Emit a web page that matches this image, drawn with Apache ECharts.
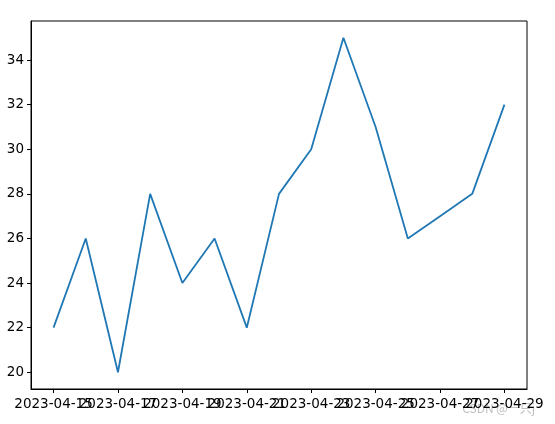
<!DOCTYPE html>
<html>
<head>
<meta charset="utf-8">
<script src="https://cdn.jsdelivr.net/npm/echarts@6/dist/echarts.min.js"></script>
<style>
  html, body { margin: 0; padding: 0; background: #fff; }
  #chart { width: 555px; height: 424px; }
</style>
</head>
<body>
<div id="chart"></div>
<script>
// 日期和数值
var dates = ['2023-04-15', '2023-04-16', '2023-04-17', '2023-04-18', '2023-04-19',
  '2023-04-20', '2023-04-21', '2023-04-22', '2023-04-23', '2023-04-24',
  '2023-04-25', '2023-04-26', '2023-04-27', '2023-04-28', '2023-04-29']
var values = [22, 26, 20, 28, 24, 26, 22, 28, 30, 35, 31, 26, 27, 28, 32]
var xTickDates = ['2023-04-15', '2023-04-17', '2023-04-19', '2023-04-21', '2023-04-23',
  '2023-04-25', '2023-04-27', '2023-04-29']
var yTicks = [20, 22, 24, 26, 28, 30, 32, 34]

var chart = echarts.init(document.getElementById('chart'))

var xTicks = xTickDates.map(function (d) { return dates.indexOf(d) })
// 标签互相重叠，分两条轴画，免得被自动隐藏
var xTicksA = xTicks.filter(function (v, i) { return i % 2 === 0 })
var xTicksB = xTicks.filter(function (v, i) { return i % 2 === 1 })
var seriesData = values.map(function (v, i) { return [i, v] })

var font = 'DejaVu Sans'

function xAxisOf (labels, withTicks) {
  return {
    type: 'value',
    position: 'bottom',
    min: -0.7,
    max: 14.7,
    splitLine: { show: false },
    axisLine: { show: withTicks, onZero: false, lineStyle: { color: '#000', width: 1 } },
    axisTick: {
      show: withTicks, length: 4, inside: false,
      lineStyle: { color: '#000', width: 1 },
      customValues: xTicks
    },
    axisLabel: {
      customValues: labels,
      color: '#000', fontFamily: font, fontSize: 13.5, margin: 8,
      hideOverlap: false, showMinLabel: true, showMaxLabel: true,
      formatter: function (v) { return dates[Math.round(v)] }
    }
  }
}

var option = {
  animation: false,
  grid: {
    left: 31, right: 28, top: 21, bottom: 35,
    containLabel: false,
    outerBoundsMode: 'none',
    show: true, borderColor: '#000', borderWidth: 1
  },
  xAxis: [xAxisOf(xTicksA, true), xAxisOf(xTicksB, false)],
  yAxis: {
    type: 'value',
    min: 19.25,
    max: 35.75,
    splitLine: { show: false },
    axisLine: { show: true, onZero: false, lineStyle: { color: '#000', width: 1 } },
    axisTick: {
      show: true, length: 4, inside: false,
      lineStyle: { color: '#000', width: 1 },
      customValues: yTicks
    },
    axisLabel: {
      customValues: yTicks,
      color: '#000', fontFamily: font, fontSize: 13.5, margin: 7,
      showMinLabel: true, showMaxLabel: true
    }
  },
  graphic: [{
    type: 'text',
    right: 20,
    bottom: 10,
    style: {
      text: 'CSDN @一只j',
      fill: '#c0c0c0',
      font: '12px "Noto Sans CJK SC"'
    }
  }],
  series: [{
    type: 'line',
    xAxisIndex: 0,
    data: seriesData,
    symbol: 'none',
    lineStyle: { color: '#1f77b4', width: 1.8 }
  }]
}

chart.setOption(option)
</script>
</body>
</html>
